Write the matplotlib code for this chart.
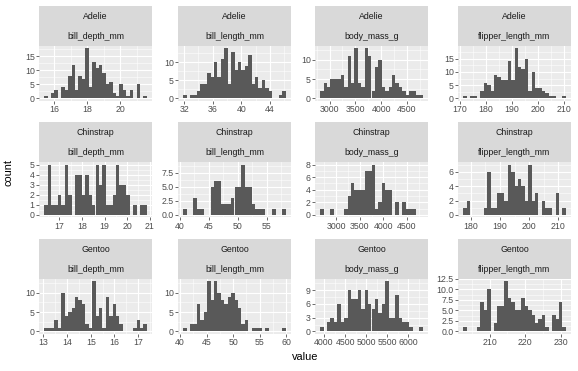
import numpy as np
import matplotlib
matplotlib.use("Agg")
import matplotlib.pyplot as plt

plt.rcParams['font.family'] = ['Liberation Sans', 'DejaVu Sans']

species = ["Adelie", "Chinstrap", "Gentoo"]
variables = ["bill_depth_mm", "bill_length_mm", "body_mass_g", "flipper_length_mm"]

# (min, max) of each variable per species
adelie_ranges = [(15.5, 21.5), (32.1, 46.0), (2850, 4775), (172, 210)]
chinstrap_ranges = [(16.4, 20.8), (40.9, 58.0), (2700, 4800), (178, 212)]
gentoo_ranges = [(13.1, 17.3), (40.9, 59.6), (3950, 6300), (203, 231)]

# histogram counts, 30 bins each
adelie_bill_depth = [1, 0, 2, 3, 0, 4, 3, 8, 12, 3, 8, 7, 18, 4, 13, 11, 12, 9, 5, 6, 2, 1, 5, 3, 1, 3, 0, 5, 0, 1]
adelie_bill_length = [1, 0, 1, 1, 2, 4, 4, 7, 6, 10, 6, 11, 14, 4, 13, 8, 10, 8, 9, 12, 4, 6, 3, 5, 3, 2, 0, 0, 1, 2]
adelie_body_mass = [2, 4, 3, 5, 5, 5, 6, 3, 11, 4, 13, 4, 3, 13, 11, 2, 8, 10, 3, 2, 3, 6, 4, 3, 2, 1, 2, 2, 1, 1]
adelie_flipper = [1, 0, 1, 1, 0, 3, 6, 5, 3, 9, 8, 7, 7, 14, 7, 19, 12, 11, 15, 3, 10, 4, 4, 3, 2, 1, 1, 0, 0, 1]

chinstrap_bill_depth = [1, 5, 1, 1, 2, 1, 5, 2, 0, 4, 4, 2, 4, 2, 1, 5, 3, 5, 1, 1, 2, 5, 3, 3, 2, 0, 1, 0, 1, 1]
chinstrap_bill_length = [1, 0, 0, 3, 1, 1, 0, 0, 5, 6, 6, 2, 2, 2, 3, 5, 5, 9, 5, 5, 2, 1, 1, 1, 0, 0, 1, 0, 0, 1]
chinstrap_body_mass = [1, 0, 0, 1, 0, 0, 0, 1, 3, 5, 4, 4, 4, 7, 7, 8, 1, 2, 5, 4, 4, 0, 2, 0, 2, 1, 1, 1, 0, 0]
chinstrap_flipper = [1, 2, 0, 0, 0, 0, 1, 6, 1, 1, 3, 3, 2, 7, 6, 4, 5, 4, 2, 7, 2, 3, 0, 2, 1, 1, 0, 3, 0, 1]

gentoo_bill_depth = [1, 1, 1, 3, 1, 10, 4, 5, 6, 9, 8, 7, 2, 1, 13, 4, 6, 1, 9, 4, 7, 4, 2, 0, 0, 0, 1, 3, 1, 2]
gentoo_bill_length = [1, 0, 2, 2, 7, 3, 5, 13, 8, 13, 10, 8, 7, 9, 10, 8, 6, 2, 3, 0, 1, 1, 1, 0, 1, 0, 0, 0, 0, 1]
gentoo_body_mass = [1, 0, 2, 3, 2, 6, 2, 3, 9, 7, 7, 9, 5, 9, 6, 5, 7, 4, 6, 11, 3, 3, 8, 3, 2, 2, 1, 0, 0, 1]
gentoo_flipper = [1, 0, 0, 0, 1, 7, 5, 10, 0, 2, 6, 6, 12, 8, 7, 5, 5, 8, 6, 5, 4, 2, 3, 4, 1, 0, 4, 3, 7, 1]

# axis breaks
x_breaks = [
    [[16, 18, 20], [32, 36, 40, 44], [3000, 3500, 4000, 4500], [170, 180, 190, 200, 210]],
    [[17, 18, 19, 20, 21], [40, 45, 50, 55], [3000, 3500, 4000, 4500], [180, 190, 200, 210]],
    [[13, 14, 15, 16, 17], [40, 45, 50, 55, 60], [4000, 4500, 5000, 5500, 6000], [210, 220, 230]],
]
y_breaks = [
    [[0, 5, 10, 15], [0, 5, 10], [0, 5, 10], [0, 5, 10, 15]],
    [[0, 1, 2, 3, 4, 5], [0, 2.5, 5, 7.5], [0, 2, 4, 6, 8], [0, 2, 4, 6]],
    [[0, 5, 10], [0, 5, 10], [0, 3, 6, 9], [0, 2.5, 5, 7.5, 10, 12.5]],
]
y_labels = [
    [["0", "5", "10", "15"], ["0", "5", "10"], ["0", "5", "10"], ["0", "5", "10", "15"]],
    [["0", "1", "2", "3", "4", "5"], ["0.0", "2.5", "5.0", "7.5"], ["0", "2", "4", "6", "8"], ["0", "2", "4", "6"]],
    [["0", "5", "10"], ["0", "5", "10"], ["0", "3", "6", "9"], ["0.0", "2.5", "5.0", "7.5", "10.0", "12.5"]],
]

ranges = [adelie_ranges, chinstrap_ranges, gentoo_ranges]
counts = [
    [adelie_bill_depth, adelie_bill_length, adelie_body_mass, adelie_flipper],
    [chinstrap_bill_depth, chinstrap_bill_length, chinstrap_body_mass, chinstrap_flipper],
    [gentoo_bill_depth, gentoo_bill_length, gentoo_body_mass, gentoo_flipper],
]

W, H = 578, 371
fig = plt.figure(figsize=(W / 72, H / 72), dpi=72)
fig.patch.set_facecolor("white")

col_left = [39, 178, 315, 458]
panel_w = 113
row_top = [45.5, 162, 278.5]
panel_h = 55.5
strip_h = 20

BG = "#EBEBEB"
STRIP = "#D9D9D9"


def px_axes(left, top, w, h):
    return fig.add_axes([left / W, 1 - (top + h) / H, w / W, h / H])


def minor_of(br, lo, hi):
    br = list(br)
    step = br[1] - br[0]
    ext = [br[0] - step] + br + [br[-1] + step]
    mids = [(a + b) / 2 for a, b in zip(ext[:-1], ext[1:])]
    return [m for m in mids if lo <= m <= hi and m not in br]


for r in range(3):
    for c in range(4):
        left = col_left[c]
        top = row_top[r]
        # strips
        for k, txt in enumerate([species[r], variables[c]]):
            sa = px_axes(left, top - strip_h * (2 - k), panel_w, strip_h)
            sa.set_facecolor(STRIP)
            sa.set_xticks([]); sa.set_yticks([])
            for s in sa.spines.values():
                s.set_visible(False)
            sa.text(0.5, 0.47, txt, ha="center", va="center", fontsize=8.8,
                    color="#1A1A1A", transform=sa.transAxes)

        ax = px_axes(left, top, panel_w, panel_h)
        ax.set_facecolor(BG)
        for s in ax.spines.values():
            s.set_visible(False)

        lo, hi = ranges[r][c]
        vals = np.array(counts[r][c], dtype=float)
        nb = len(vals)
        wdt = (hi - lo) / (nb - 1)
        centers = lo + wdt * np.arange(nb)
        x0, x1 = lo - wdt / 2, hi + wdt / 2
        xr = x1 - x0
        xlo, xhi = x0 - 0.05 * xr, x1 + 0.05 * xr
        ymax = vals.max()
        ylo, yhi = -0.05 * ymax, ymax * 1.05

        xb = x_breaks[r][c]
        yb = y_breaks[r][c]
        for m in minor_of(xb, xlo, xhi):
            ax.axvline(m, color="white", lw=0.55, zorder=0.5)
        for m in minor_of(yb, ylo, yhi):
            ax.axhline(m, color="white", lw=0.55, zorder=0.5)
        for b in xb:
            ax.axvline(b, color="white", lw=1.1, zorder=0.6)
        for b in yb:
            ax.axhline(b, color="white", lw=1.1, zorder=0.6)

        ax.bar(centers, vals, width=wdt, color="#595959", linewidth=0, zorder=2)
        ax.set_xlim(xlo, xhi)
        ax.set_ylim(ylo, yhi)
        ax.set_xticks(xb)
        ax.set_xticklabels([str(v) for v in xb])
        ax.set_yticks(yb)
        ax.set_yticklabels(y_labels[r][c])
        ax.tick_params(axis="both", length=2.75, width=0.7, color="#333333",
                       labelsize=8.8, labelcolor="#4D4D4D", pad=1.5)

fig.text(305 / W, 1 - 357 / H, "value", ha="center", va="center", fontsize=11, color="black")
fig.text(9 / W, 1 - 172 / H, "count", ha="center", va="center", fontsize=11,
         rotation=90, color="black")

fig.savefig("out.png", dpi=72, facecolor="white")
